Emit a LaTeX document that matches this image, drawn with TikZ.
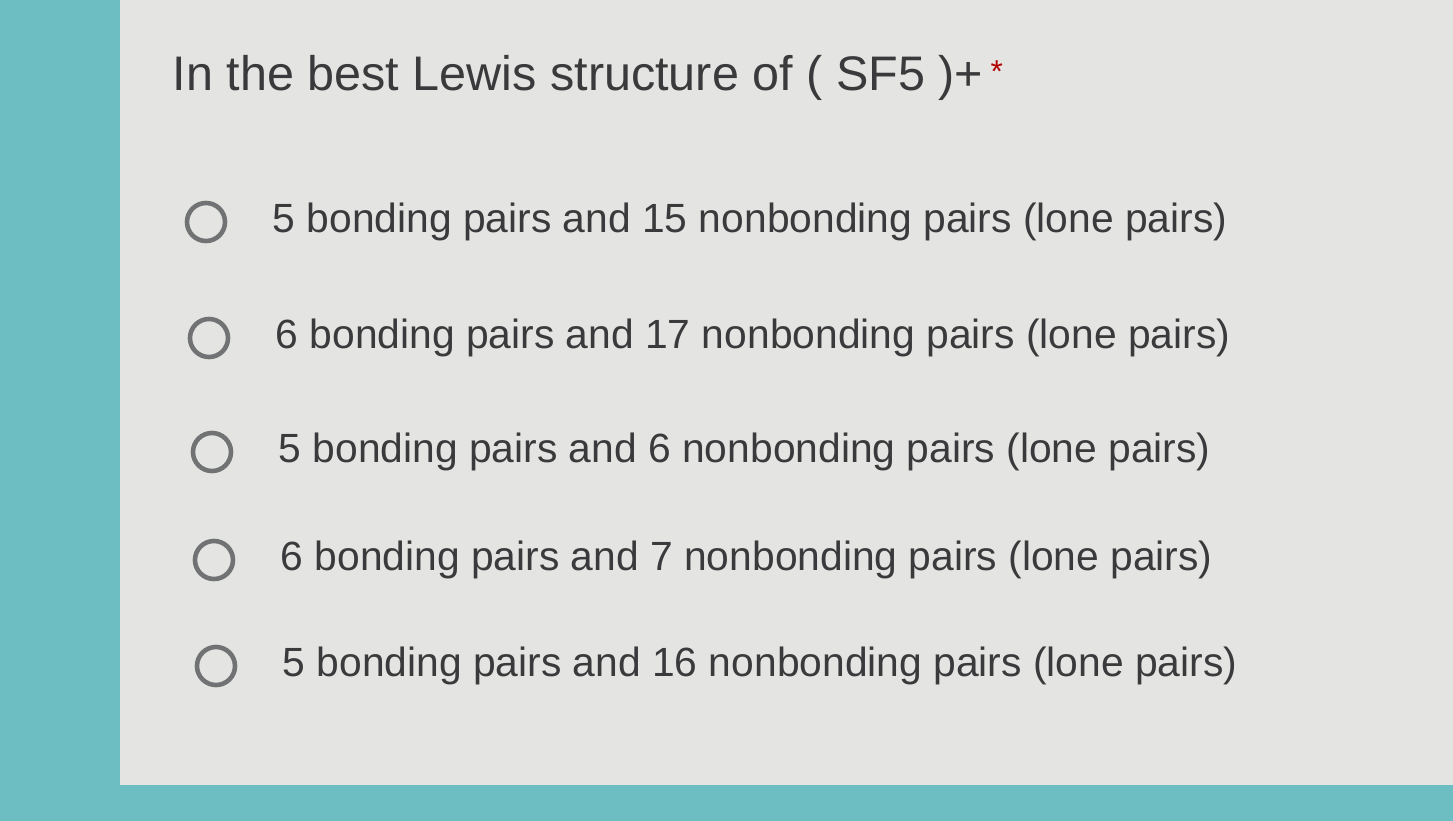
\documentclass[tikz,border=0pt]{standalone}
\usepackage{fontspec}
\setmainfont{Liberation Sans}
\definecolor{teal1}{HTML}{6DBEC3}
\definecolor{card}{HTML}{E4E4E2}
\definecolor{txt}{HTML}{3A3A3C}
\definecolor{ring}{HTML}{707274}
\begin{document}
\begin{tikzpicture}[x=0.01cm,y=-0.01cm,
  opt/.style={anchor=west,text=txt,font=\fontsize{11.6}{13}\selectfont,inner sep=0},
  radio/.style={circle,draw=ring,line width=1.3pt,minimum size=0.38cm,inner sep=0}]
\useasboundingbox (0,0) rectangle (1453,821);
\fill[teal1] (0,0) rectangle (1453,821);
\fill[card] (120,0) rectangle (1453,785);
\node[anchor=west,text=txt,font=\fontsize{13.8}{16}\selectfont,inner sep=0] (title) at (172,78) {In the best Lewis structure of ( SF5 )+};
\node[anchor=west,text=red!70!black,font=\fontsize{9}{10}\selectfont,inner sep=0] (star) at (990,72) {*};
\foreach \y/\x/\t [count=\i] in {
  222/272/5 bonding pairs and 15 nonbonding pairs (lone pairs),
  338/275/6 bonding pairs and 17 nonbonding pairs (lone pairs),
  452/278/5 bonding pairs and 6 nonbonding pairs (lone pairs),
  560/280/6 bonding pairs and 7 nonbonding pairs (lone pairs),
  666/282/5 bonding pairs and 16 nonbonding pairs (lone pairs)}{
  \node[radio] (r\i) at (\x-66,\y) {};
  \node[opt] (o\i) at (\x,\y) {\t};
}
\end{tikzpicture}
\end{document}
